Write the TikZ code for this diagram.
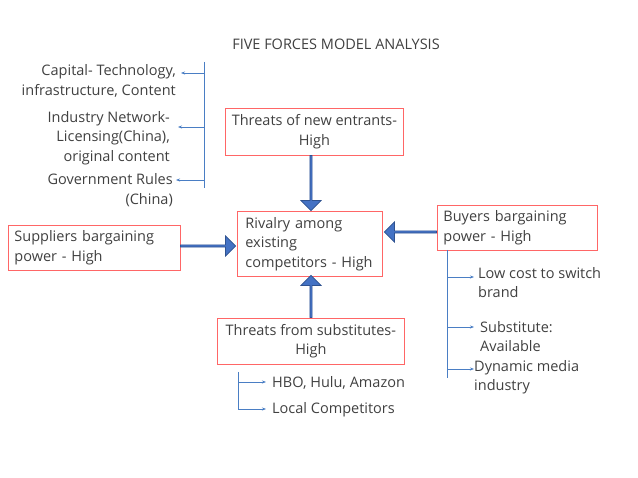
\documentclass[tikz,border=0pt]{standalone}
\usepackage{fontspec}
\setmainfont{Open Sans}
\usetikzlibrary{arrows.meta,shapes.arrows}
\definecolor{txt}{HTML}{404040}
\definecolor{lb}{HTML}{4A7EC4}
\definecolor{fa}{HTML}{4472C4}
\definecolor{fe}{HTML}{2F528F}
\begin{document}
\begin{tikzpicture}[x=1pt,y=-1pt,
  box/.style={draw=red!60!white,line width=0.8pt,text=txt,font=\fontsize{14.5}{19.5}\selectfont,inner sep=0pt,anchor=north west,align=center},
  lbox/.style={box,align=left,inner xsep=6pt,inner ysep=4pt,text width=#1,minimum width=#1+12pt},
  lbl/.style={text=txt,font=\fontsize{14.5}{19.5}\selectfont,inner sep=0pt},
  thin/.style={draw=lb,line width=0.7pt},
  tip/.style={thin,-{Stealth[length=4pt,width=3pt]}},
  big/.style={single arrow,draw=fe,fill=fa,line width=0.7pt,minimum height=#1,minimum width=20pt,single arrow head extend=4pt,single arrow tip angle=90,inner sep=0pt,shape border uses incircle}]
\useasboundingbox (0,0) rectangle (638,478);
\node[lbl,font=\fontsize{14.5}{17}\selectfont] (title) at (336,44) {FIVE FORCES MODEL ANALYSIS};
\node[box,minimum width=178pt,minimum height=47pt] (ne) at (225,108) {Threats of new entrants-\\High};
\node[lbox=129pt,minimum height=65pt,inner xsep=8pt] (ri) at (237,211) {Rivalry among\\existing\\competitors - High};
\node[lbox=160pt,minimum height=45pt] (su) at (8,225) {Suppliers bargaining\\power - High};
\node[lbox=148pt,minimum height=45pt] (bu) at (437,205) {Buyers bargaining\\power - High};
\node[box,minimum width=187pt,minimum height=46pt] (sb) at (217,318) {Threats from substitutes-\\High};
% big arrows
\node[big=55pt,rotate=-90] (a1) at (311,182.5) {};
\node[big=55pt] (a2) at (207.5,246) {};
\node[big=52pt,rotate=180] (a3) at (411,232) {};
\node[big=42pt,rotate=90] (a4) at (311,297) {};
% left bracket
\draw[thin] (204,62) -- (204,188);
\node[lbl,anchor=east,align=right] (l1) at (176,81) {Capital- Technology,\\infrastructure, Content};
\node[lbl,anchor=east,align=right] (l2) at (170,138) {Industry Network-\\Licensing(China),\\original content};
\node[lbl,anchor=east,align=right] (l3) at (173,190) {Government Rules\\(China)};
\draw[tip] (204,73) -- (181,73);
\draw[tip] (204,127) -- (178,127);
\draw[tip] (204,180) -- (176,180);
% buyers bracket
\draw[thin] (447,250) -- (447,378);
\draw[tip] (447,277) -- (474,277);
\draw[tip] (447,327) -- (474,327);
\draw[tip] (447,369) -- (474,369);
\node[lbl,anchor=north west,align=left] (b1) at (478,267) {Low cost to switch\\brand};
\node[lbl,anchor=north west,align=left] (b2) at (480,321) {Substitute:\\Available};
\node[lbl,anchor=north west,align=left] (b3) at (474,360) {Dynamic media\\industry};
% substitutes bracket
\draw[thin] (238,372) -- (238,410);
\draw[tip] (238,382) -- (266,382);
\draw[tip] (238,409) -- (266,409);
\node[lbl,anchor=west] (s1) at (272,383) {HBO, Hulu, Amazon};
\node[lbl,anchor=west] (s2) at (272,410) {Local Competitors};
\end{tikzpicture}
\end{document}
